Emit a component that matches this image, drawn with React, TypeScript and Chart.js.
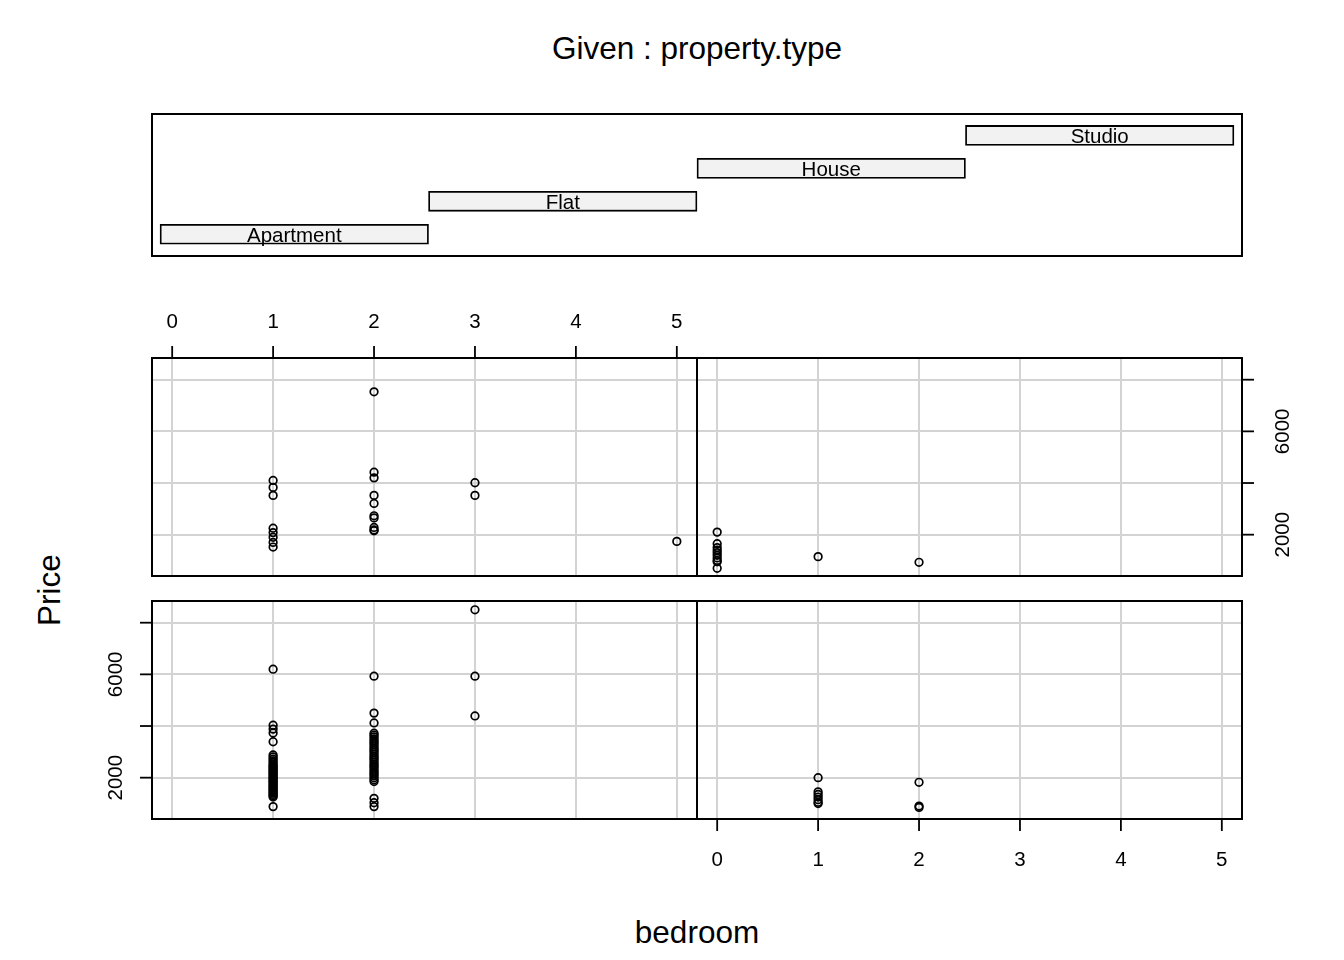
import { useEffect, useRef } from "react"
import { Chart, registerables } from "chart.js"
import type { ChartConfiguration, Plugin } from "chart.js"

Chart.register(...registerables)

const W = 1344
const H = 960
const FONT = '"Liberation Sans", Arial, sans-serif'

const bedroomTicks = [0, 1, 2, 3, 4, 5]
const priceTicks = [2000, 4000, 6000, 8000]
const priceLabelled = [2000, 6000]

const propertyTypes = ["Apartment", "Flat", "House", "Studio"]
const givenLow = [0.5, 1.5, 2.5, 3.5]
const givenHigh = [1.5, 2.5, 3.5, 4.5]

// price by number of bedrooms, one list per property type and bedroom count
const apartment1 = [6200, 4030, 3880, 3730, 3390, 2880, 2800, 2720, 2650, 2580, 2500, 2450, 2400, 2350, 2300, 2250, 2200, 2150, 2100, 2050, 2000, 1950, 1900, 1850, 1800, 1750, 1700, 1650, 1600, 1550, 1500, 1450, 1400, 1350, 1300, 1250, 880]
const apartment2 = [5930, 4500, 4120, 3720, 3650, 3580, 3500, 3420, 3350, 3280, 3200, 3120, 3050, 2980, 2900, 2820, 2750, 2680, 2600, 2520, 2450, 2380, 2300, 2220, 2150, 2080, 2000, 1920, 1850, 1200, 1030, 880]
const apartment3 = [8500, 5930, 4390]

const flat1 = [2000, 1450, 1350, 1250, 1150, 1050, 1000]
const flat2 = [1820, 900, 850]

const house1 = [4100, 3830, 3520, 2250, 2080, 1900, 1700, 1520]
const house2 = [7530, 4420, 4200, 3520, 3210, 2730, 2650, 2280, 2180, 2150]
const house3 = [4010, 3520]
const house5 = [1740]

const studio0 = [2100, 1650, 1500, 1400, 1300, 1200, 1100, 1000, 950, 700]
const studio1 = [1150]
const studio2 = [930]

type Side = "top" | "bottom" | "left" | "right"
type Rect = { left: number; top: number; right: number; bottom: number }

const padFor = (r: Rect) => ({ left: r.left, top: r.top, right: W - r.right, bottom: H - r.bottom })

function framePlugin(side?: Side): Plugin {
  return {
    id: "frame",
    afterDraw(chart) {
      const { ctx, chartArea: a } = chart
      ctx.save()
      ctx.strokeStyle = "#000"
      ctx.fillStyle = "#000"
      ctx.lineWidth = 2
      ctx.strokeRect(a.left, a.top, a.right - a.left, a.bottom - a.top)
      ctx.lineWidth = 1.8
      ctx.font = `20.5px ${FONT}`
      ctx.textAlign = "center"
      ctx.textBaseline = "alphabetic"
      const seg = (x0: number, y0: number, x1: number, y1: number) => {
        ctx.beginPath()
        ctx.moveTo(x0, y0)
        ctx.lineTo(x1, y1)
        ctx.stroke()
      }
      if (side === "top" || side === "bottom") {
        const xs = chart.scales.x
        const y0 = side === "top" ? a.top : a.bottom
        const dir = side === "top" ? -1 : 1
        for (const v of bedroomTicks) {
          const px = xs.getPixelForValue(v)
          seg(px, y0, px, y0 + dir * 12)
          ctx.fillText(String(v), px, side === "top" ? y0 - 30 : y0 + 47)
        }
      } else if (side === "left" || side === "right") {
        const ys = chart.scales.y
        const x0 = side === "left" ? a.left : a.right
        const dir = side === "left" ? -1 : 1
        for (const v of priceTicks) {
          const py = ys.getPixelForValue(v)
          seg(x0, py, x0 + dir * 12, py)
          if (priceLabelled.includes(v)) {
            ctx.save()
            ctx.translate(side === "left" ? x0 - 30 : x0 + 47, py)
            ctx.rotate(-Math.PI / 2)
            ctx.fillText(String(v), 0, 0)
            ctx.restore()
          }
        }
      }
      ctx.restore()
    },
  }
}

const barLabels: Plugin = {
  id: "barLabels",
  afterDatasetsDraw(chart) {
    const { ctx } = chart
    const meta = chart.getDatasetMeta(0)
    ctx.save()
    ctx.fillStyle = "#000"
    ctx.font = `20.5px ${FONT}`
    ctx.textAlign = "center"
    ctx.textBaseline = "alphabetic"
    meta.data.forEach((el, i) => {
      const { x, y, base } = el.getProps(["x", "y", "base"], true) as any
      ctx.fillText(propertyTypes[i], (x + base) / 2, y + 8)
    })
    ctx.restore()
  },
}

function panelConfig(groups: [number, number[]][], rect: Rect, side: Side): ChartConfiguration {
  const points = groups.flatMap(([b, prices]) => prices.map((p) => ({ x: b, y: p })))
  const grid = { color: "#d3d3d3", lineWidth: 2, drawTicks: false }
  return {
    type: "scatter",
    data: {
      datasets: [
        {
          data: points,
          pointStyle: "circle",
          pointRadius: 3.8,
          pointBorderWidth: 1.7,
          pointBorderColor: "#000",
          pointBackgroundColor: "rgba(0,0,0,0)",
        },
      ],
    },
    options: {
      responsive: false,
      animation: false,
      events: [],
      layout: { padding: padFor(rect) },
      plugins: { legend: { display: false }, tooltip: { enabled: false } },
      scales: {
        x: {
          type: "linear",
          min: -0.2,
          max: 5.2,
          ticks: { display: false },
          grid,
          border: { display: false },
          afterBuildTicks: (s) => {
            s.ticks = bedroomTicks.map((v) => ({ value: v }))
          },
        },
        y: {
          type: "linear",
          min: 400,
          max: 8840,
          ticks: { display: false },
          grid,
          border: { display: false },
          afterBuildTicks: (s) => {
            s.ticks = priceTicks.map((v) => ({ value: v }))
          },
        },
      },
    },
    plugins: [framePlugin(side)],
  }
}

const givenRect: Rect = { left: 152, top: 114, right: 1242, bottom: 256 }

const givenConfig = (): ChartConfiguration => ({
  type: "bar",
  data: {
    datasets: [
      {
        data: propertyTypes.map((_, i) => ({ x: [givenLow[i], givenHigh[i]], y: i + 1 })) as any,
        backgroundColor: "#f2f2f2",
        borderColor: "#000",
        borderWidth: 1.8,
        borderSkipped: false,
        barThickness: 20,
      },
    ],
  },
  options: {
    indexAxis: "y",
    responsive: false,
    animation: false,
    events: [],
    layout: { padding: padFor(givenRect) },
    plugins: { legend: { display: false }, tooltip: { enabled: false } },
    scales: {
      x: { type: "linear", min: 0.47, max: 4.53, display: false, offset: false },
      y: { type: "linear", min: 0.34, max: 4.65, display: false, offset: false },
    },
  },
  plugins: [barLabels, framePlugin()],
})

const apartmentConfig = () =>
  panelConfig([[1, apartment1], [2, apartment2], [3, apartment3]], { left: 152, top: 601, right: 697, bottom: 819 }, "left")
const flatConfig = () =>
  panelConfig([[1, flat1], [2, flat2]], { left: 697, top: 601, right: 1242, bottom: 819 }, "bottom")
const houseConfig = () =>
  panelConfig([[1, house1], [2, house2], [3, house3], [5, house5]], { left: 152, top: 358, right: 697, bottom: 576 }, "top")
const studioConfig = () =>
  panelConfig([[0, studio0], [1, studio1], [2, studio2]], { left: 697, top: 358, right: 1242, bottom: 576 }, "right")

function ChartCanvas({ config }: { config: () => ChartConfiguration }) {
  const ref = useRef<HTMLCanvasElement>(null)
  useEffect(() => {
    if (!ref.current) return
    const chart = new Chart(ref.current, config())
    return () => chart.destroy()
  }, [config])
  return <canvas ref={ref} width={W} height={H} style={{ position: "absolute", left: 0, top: 0 }} />
}

const textStyle = {
  position: "absolute" as const,
  font: `31.5px ${FONT}`,
  lineHeight: "32px",
  whiteSpace: "nowrap" as const,
  color: "#000",
}

export default function App() {
  return (
    <div style={{ position: "absolute", left: 0, top: 0, width: W, height: H, background: "#fff", overflow: "hidden" }}>
      <div style={{ ...textStyle, left: 697, top: 48, transform: "translate(-50%, -50%)" }}>Given : property.type</div>
      <div style={{ ...textStyle, left: 697, top: 932, transform: "translate(-50%, -50%)" }}>bedroom</div>
      <div style={{ ...textStyle, left: 49, top: 590, transform: "translate(-50%, -50%) rotate(-90deg)" }}>Price</div>
      <ChartCanvas config={givenConfig} />
      <ChartCanvas config={houseConfig} />
      <ChartCanvas config={studioConfig} />
      <ChartCanvas config={apartmentConfig} />
      <ChartCanvas config={flatConfig} />
    </div>
  )
}
